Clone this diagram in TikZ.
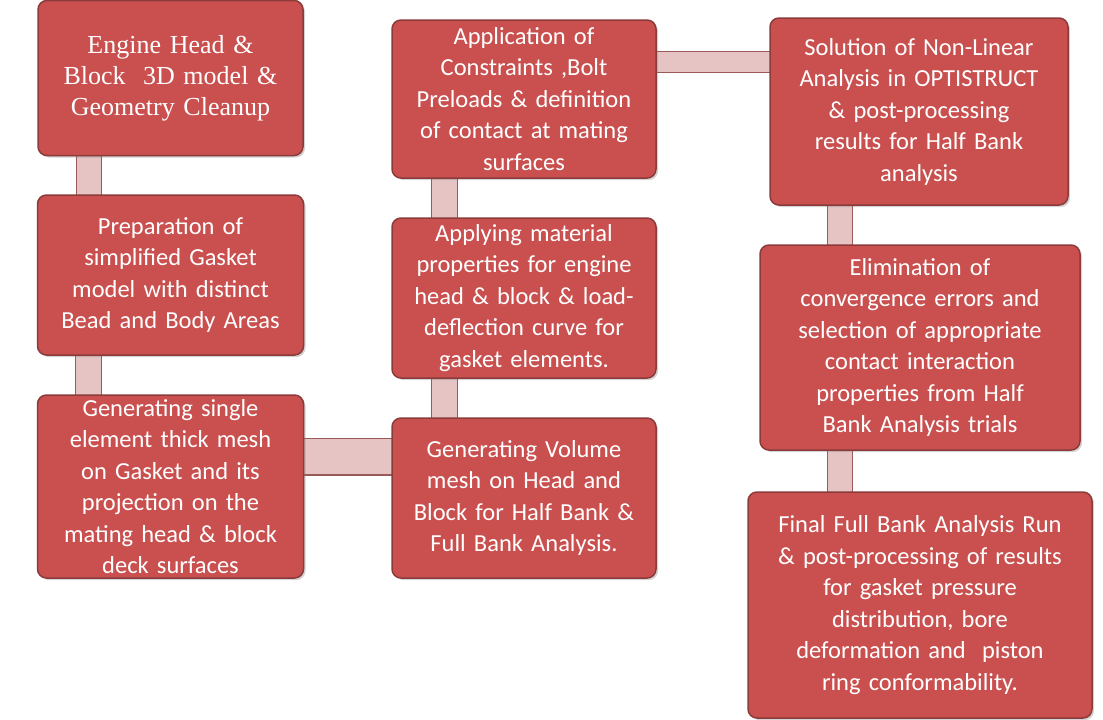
\documentclass[tikz,border=0pt]{standalone}
\usepackage{fontspec}
\setmainfont{Carlito}
\newfontfamily\serifx{Liberation Serif}
\usetikzlibrary{calc,shadows,backgrounds}
\definecolor{boxred}{HTML}{C9504F}
\definecolor{boxedge}{HTML}{8B3B3A}
\definecolor{barfill}{HTML}{E6C4C4}
\definecolor{baredge}{HTML}{9A5A5A}
\tikzset{
 box/.style={draw=boxedge, line width=1.5pt, rounded corners=9pt, fill=boxred, text=white,
   align=center, inner sep=4pt, font=\fontsize{24.5}{31.5}\selectfont, drop shadow={shadow xshift=2pt,shadow yshift=-2pt,opacity=0.35}},
 bar/.style={draw=baredge, line width=1.2pt, fill=barfill}
}
\begin{document}
\begin{tikzpicture}[x=1pt,y=-1pt]
\useasboundingbox (0,0) rectangle (1103,720);
\node[box, minimum width=265, minimum height=155, text width=255, font=\serifx\fontsize{26}{31}\selectfont] (b1) at (170.5,78) {Engine Head \&\\Block\ \ 3D model \&\\Geometry Cleanup};
\node[box, minimum width=265, minimum height=160, text width=258] (b2) at (170.5,275) {Preparation of\\simplified Gasket\\model with distinct\\Bead and Body Areas};
\node[box, minimum width=265, minimum height=183, text width=258] (b3) at (170.5,486.5) {Generating single\\element thick mesh\\on Gasket and its\\projection on the\\mating head \& block\\deck surfaces};
\node[box, minimum width=264, minimum height=158, text width=256] (b4) at (524,99) {Application of\\Constraints ,Bolt\\Preloads \& definition\\of contact at mating\\surfaces};
\node[box, minimum width=264, minimum height=160, text width=256] (b5) at (524,298) {Applying material\\properties for engine\\head \& block \& load-\\deflection curve for\\gasket elements.};
\node[box, minimum width=264, minimum height=160, text width=256] (b6) at (524,498) {Generating Volume\\mesh on Head and\\Block for Half Bank \&\\Full Bank Analysis.};
\node[box, minimum width=298, minimum height=187, text width=290] (b7) at (919,111.5) {Solution of Non-Linear\\Analysis in OPTISTRUCT\\\& post-processing\\results for Half Bank\\analysis};
\node[box, minimum width=320, minimum height=205, text width=312] (b8) at (920,347.5) {Elimination of\\convergence errors and\\selection of appropriate\\contact interaction\\properties from Half\\Bank Analysis trials};
\node[box, minimum width=344, minimum height=226, text width=336] (b9) at (920,605) {Final Full Bank Analysis Run\\\& post-processing of results\\for gasket pressure\\distribution, bore\\deformation and\ \ piston\\ring conformability.};
\begin{scope}[on background layer]
\path[bar] ($(b1.south west)+(39,-15)$) rectangle ($(b2.north west)+(65,15)$);
\path[bar] ($(b2.south west)+(39,-15)$) rectangle ($(b3.north west)+(65,15)$);
\path[bar] ($(b3.east)+(-13,-48)$) rectangle ($(b6.west)+(13,-23)$);
\path[bar] ($(b6.north west)+(40,15)$) rectangle ($(b5.south west)+(66,-15)$);
\path[bar] ($(b5.north west)+(40,15)$) rectangle ($(b4.south west)+(66,-15)$);
\path[bar] ($(b4.north east)+(-11,32)$) rectangle ($(b7.north west)+(11,55)$);
\path[bar] ($(b7.south west)+(58,-10)$) rectangle ($(b8.north west)+(93,10)$);
\path[bar] ($(b8.south west)+(68,-10)$) rectangle ($(b9.north west)+(105,10)$);
\end{scope}
\end{tikzpicture}
\end{document}
